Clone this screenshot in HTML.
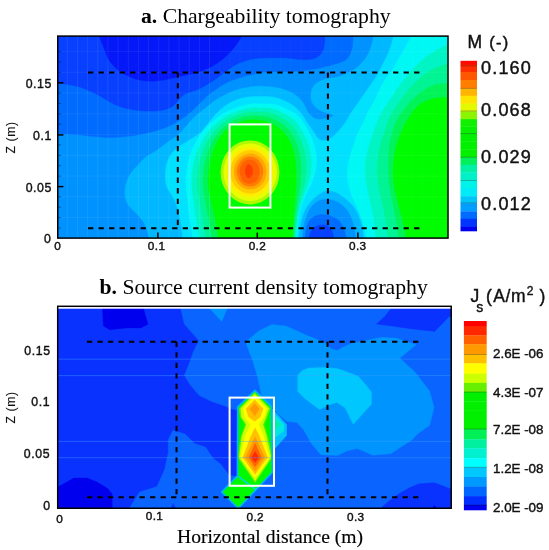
<!DOCTYPE html>
<html><head><meta charset="utf-8"><title>Chargeability and source current density tomography</title>
<style>html,body{margin:0;padding:0;background:#fff;width:549px;height:550px;overflow:hidden}svg{display:block}</style>
</head><body>
<svg width="549" height="550" viewBox="0 0 549 550">
<rect width="549" height="550" fill="#fff"/>
<!-- titles -->
<text x="141" y="23" font-family="'Liberation Serif', serif" font-size="21.7"><tspan font-weight="bold">a.</tspan> Chargeability tomography</text>
<text x="99.5" y="293.6" font-family="'Liberation Serif', serif" font-size="21.7"><tspan font-weight="bold">b.</tspan> Source current density tomography</text>
<text x="177" y="542.8" font-family="'Liberation Serif', serif" font-size="19.6" stroke="#000" stroke-width="0.15">Horizontal distance (m)</text>

<!-- panel a -->
<g id="pa">
<clipPath id="clipa"><rect x="57.75" y="36.1" width="390.25" height="202.0"/></clipPath>
<g clip-path="url(#clipa)">
<rect x="40" y="20" width="428" height="236" fill="#00b8ff"/>
<path d="M373.5 28.0 L373.5 29.3 L373.5 30.6 L373.5 31.9 L373.5 33.2 L373.4 34.6 L373.3 36.0 L373.0 37.8 L372.6 39.6 L372.2 41.5 L371.7 43.3 L371.1 45.2 L370.5 47.0 L369.9 48.7 L369.2 50.4 L368.5 52.1 L367.8 53.8 L366.9 55.4 L366.0 57.0 L364.9 58.6 L363.7 60.2 L362.3 61.7 L360.9 63.2 L359.5 64.7 L358.0 66.0 L356.5 67.3 L354.9 68.4 L353.2 69.6 L351.5 70.6 L349.8 71.6 L348.0 72.5 L346.2 73.3 L344.4 74.1 L342.6 74.8 L340.7 75.4 L338.9 76.0 L337.0 76.5 L335.2 76.9 L333.3 77.2 L331.4 77.5 L329.6 77.7 L327.8 78.1 L326.0 78.5 L324.4 79.0 L322.8 79.6 L321.2 80.2 L319.7 80.9 L318.3 81.7 L317.0 82.5 L316.0 83.3 L315.0 84.1 L314.1 85.0 L313.3 86.0 L312.6 87.0 L312.0 88.0 L311.5 89.1 L311.2 90.2 L310.9 91.4 L310.7 92.6 L310.6 93.8 L310.5 95.0 L310.5 96.2 L310.5 97.4 L310.6 98.6 L310.8 99.7 L311.1 100.9 L311.5 102.0 L312.1 103.2 L312.8 104.3 L313.6 105.5 L314.5 106.6 L315.5 107.6 L316.5 108.5 L317.6 109.3 L318.8 110.1 L320.0 110.7 L321.3 111.3 L322.7 111.9 L324.0 112.5 L325.6 113.1 L327.6 113.6 L329.6 114.1 L331.3 114.5 L332.5 115.0 L333.0 115.5 L332.5 116.0 L331.3 116.6 L329.6 117.2 L327.6 117.7 L325.7 118.2 L324.0 118.5 L322.6 118.7 L321.3 118.9 L319.9 119.0 L318.6 119.0 L317.3 118.8 L316.0 118.5 L314.7 118.0 L313.5 117.2 L312.3 116.3 L311.1 115.3 L310.0 114.2 L309.0 113.0 L307.9 111.4 L306.9 109.6 L306.0 107.6 L305.1 105.6 L304.1 103.7 L303.0 102.0 L301.9 100.7 L300.8 99.4 L299.7 98.2 L298.5 97.1 L297.3 96.0 L296.0 95.0 L294.8 94.1 L293.5 93.3 L292.2 92.5 L290.9 91.8 L289.5 91.1 L288.0 90.5 L286.1 89.8 L284.0 89.1 L281.9 88.5 L279.7 87.9 L277.4 87.4 L275.0 87.0 L271.9 86.6 L268.7 86.2 L265.3 86.0 L261.8 85.8 L258.4 85.8 L255.0 86.0 L251.6 86.3 L248.0 86.9 L244.5 87.5 L241.1 88.3 L237.9 89.1 L235.0 90.0 L233.1 90.7 L231.4 91.4 L229.7 92.1 L228.2 92.9 L226.6 93.7 L225.0 94.5 L223.3 95.3 L221.6 96.2 L220.0 97.1 L218.3 98.0 L216.6 99.0 L215.0 100.0 L213.3 101.2 L211.6 102.5 L210.0 103.9 L208.3 105.3 L206.7 106.6 L205.0 108.0 L203.3 109.3 L201.6 110.6 L200.0 111.9 L198.3 113.2 L196.6 114.5 L195.0 116.0 L193.3 117.7 L191.5 119.6 L189.8 121.5 L188.2 123.4 L186.6 125.3 L185.0 127.0 L183.8 128.3 L182.7 129.6 L181.6 130.9 L180.4 132.1 L179.3 133.3 L178.0 134.5 L176.5 135.7 L174.9 136.9 L173.2 138.0 L171.5 139.1 L169.7 140.3 L168.0 141.5 L166.0 143.0 L164.0 144.5 L162.0 146.1 L160.0 147.6 L158.0 149.1 L156.0 150.5 L154.3 151.6 L152.5 152.6 L150.8 153.5 L149.1 154.4 L147.5 155.4 L146.0 156.5 L144.7 157.6 L143.5 158.7 L142.4 159.9 L141.2 161.1 L140.1 162.3 L139.0 163.5 L137.8 164.7 L136.6 165.9 L135.4 167.2 L134.2 168.4 L133.0 169.7 L132.0 171.0 L131.1 172.2 L130.3 173.4 L129.5 174.6 L128.8 175.9 L128.1 177.2 L127.5 178.6 L126.8 180.3 L126.2 182.2 L125.6 184.2 L125.1 186.1 L124.7 188.1 L124.5 190.0 L124.4 191.7 L124.4 193.5 L124.6 195.2 L124.8 196.9 L125.1 198.5 L125.5 200.0 L125.9 201.2 L126.4 202.3 L126.9 203.4 L127.5 204.4 L128.2 205.4 L129.0 206.5 L130.1 207.8 L131.4 209.2 L132.8 210.5 L134.3 211.8 L135.7 213.2 L137.0 214.5 L138.1 215.7 L139.2 217.0 L140.2 218.2 L141.2 219.4 L142.2 220.7 L143.0 222.0 L143.7 223.3 L144.4 224.6 L145.0 225.9 L145.5 227.3 L146.0 228.6 L146.5 230.0 L146.9 231.3 L147.3 232.6 L147.7 234.0 L148.0 235.3 L148.3 236.7 L148.5 238.0 L148.7 239.3 L148.8 240.7 L148.8 242.0 L148.9 243.3 L148.9 244.7 L149.0 246.0 L40.0 256.0 L40.0 20.0 L373.5 20.0Z" fill="#0092ff" stroke="#0092ff" stroke-width="0.5"/>
<path d="M302.0 246.0 L302.1 244.7 L302.1 243.4 L302.2 242.1 L302.3 240.8 L302.4 239.4 L302.5 238.0 L302.7 236.1 L302.9 234.2 L303.1 232.1 L303.3 230.1 L303.6 228.0 L304.0 226.0 L304.4 224.0 L304.9 221.9 L305.5 219.8 L306.1 217.8 L306.7 215.9 L307.5 214.0 L308.3 212.3 L309.1 210.7 L310.0 209.1 L310.9 207.6 L311.9 206.2 L313.0 205.0 L314.0 204.0 L315.1 203.1 L316.3 202.3 L317.5 201.6 L318.7 201.0 L320.0 200.5 L321.3 200.1 L322.6 199.8 L323.9 199.6 L325.3 199.5 L326.7 199.5 L328.0 199.5 L329.4 199.6 L330.7 199.9 L332.1 200.2 L333.4 200.5 L334.7 201.0 L336.0 201.5 L337.2 202.1 L338.5 202.7 L339.7 203.4 L340.8 204.2 L341.9 205.1 L343.0 206.0 L344.1 207.1 L345.2 208.2 L346.2 209.5 L347.2 210.8 L348.1 212.1 L349.0 213.5 L349.8 215.0 L350.6 216.5 L351.3 218.1 L351.9 219.8 L352.5 221.4 L353.0 223.0 L353.5 224.5 L353.9 226.1 L354.2 227.6 L354.5 229.1 L354.8 230.6 L355.0 232.0 L355.1 233.1 L355.2 234.1 L355.3 235.0 L355.4 236.0 L355.4 237.0 L355.5 238.0 L355.6 239.3 L355.7 240.6 L355.8 241.9 L355.8 243.3 L355.9 244.7 L356.0 246.0 L356.0 256.0 L302.0 256.0Z" fill="#0092ff" stroke="#0092ff" stroke-width="0.5"/>
<path d="M48.0 133.5 L49.5 133.5 L50.9 133.5 L52.3 133.5 L53.8 133.5 L55.3 133.5 L57.0 133.5 L59.6 133.6 L62.5 133.7 L65.6 133.9 L68.7 134.1 L71.9 134.3 L75.0 134.5 L78.3 134.8 L81.7 135.1 L85.0 135.5 L88.4 135.9 L91.7 136.2 L95.0 136.5 L97.9 136.7 L100.9 137.0 L103.7 137.2 L106.6 137.4 L109.3 137.5 L112.0 137.5 L114.3 137.4 L116.4 137.3 L118.6 137.2 L120.7 137.0 L122.8 136.7 L125.0 136.5 L127.4 136.2 L129.9 136.0 L132.4 135.7 L135.0 135.3 L137.5 134.9 L140.0 134.5 L142.5 134.0 L145.1 133.5 L147.6 132.9 L150.1 132.3 L152.6 131.7 L155.0 131.0 L157.2 130.3 L159.5 129.7 L161.6 128.9 L163.8 128.2 L165.9 127.4 L168.0 126.5 L170.1 125.5 L172.1 124.5 L174.2 123.5 L176.2 122.3 L178.1 121.2 L180.0 120.0 L181.8 118.8 L183.5 117.6 L185.2 116.4 L186.8 115.1 L188.4 113.8 L190.0 112.5 L191.4 111.3 L192.8 110.0 L194.1 108.8 L195.4 107.5 L196.7 106.3 L198.0 105.0 L199.3 103.7 L200.6 102.3 L201.9 101.0 L203.3 99.6 L204.6 98.3 L206.0 97.0 L207.4 95.8 L208.9 94.6 L210.4 93.4 L211.9 92.2 L213.4 91.1 L215.0 90.0 L216.6 88.9 L218.2 87.7 L219.9 86.6 L221.5 85.5 L223.2 84.5 L225.0 83.5 L226.9 82.5 L228.9 81.6 L230.9 80.8 L232.9 80.0 L234.9 79.2 L237.0 78.5 L239.1 77.8 L241.3 77.2 L243.5 76.6 L245.7 76.0 L247.8 75.5 L250.0 75.0 L252.0 74.5 L253.9 74.1 L255.7 73.6 L257.7 73.2 L259.7 72.8 L262.0 72.5 L265.9 72.1 L270.3 71.9 L275.0 71.8 L279.7 71.7 L284.1 71.6 L288.0 71.5 L290.3 71.4 L292.3 71.4 L294.3 71.3 L296.2 71.2 L298.1 71.1 L300.0 71.0 L302.0 70.8 L303.9 70.6 L305.9 70.4 L307.8 70.1 L309.7 69.8 L311.6 69.5 L313.4 69.2 L315.1 68.9 L316.9 68.6 L318.6 68.2 L320.3 67.9 L322.0 67.5 L323.7 67.1 L325.4 66.7 L327.1 66.3 L328.8 65.9 L330.4 65.4 L332.0 65.0 L333.4 64.6 L334.8 64.2 L336.1 63.8 L337.4 63.4 L338.7 63.0 L340.0 62.5 L341.2 62.0 L342.4 61.5 L343.5 61.0 L344.6 60.4 L345.7 59.8 L346.6 59.0 L347.4 58.2 L348.2 57.2 L348.8 56.2 L349.4 55.2 L350.0 54.1 L350.5 53.0 L350.9 51.9 L351.3 50.8 L351.7 49.6 L351.9 48.5 L352.2 47.3 L352.4 46.0 L352.6 44.4 L352.7 42.8 L352.8 41.1 L352.9 39.3 L352.9 37.6 L353.0 36.0 L353.1 34.6 L353.1 33.3 L353.1 31.9 L353.1 30.6 L353.2 29.3 L353.2 28.0 L353.2 20.0 L40.0 20.0Z" fill="#006cff" stroke="#006cff" stroke-width="0.5"/>
<path d="M304.0 246.0 L304.2 244.7 L304.3 243.4 L304.5 242.1 L304.6 240.8 L304.8 239.4 L305.0 238.0 L305.2 236.1 L305.5 234.0 L305.7 231.9 L306.1 229.8 L306.5 227.8 L307.0 226.0 L307.5 224.7 L308.1 223.4 L308.7 222.1 L309.4 221.0 L310.2 219.9 L311.0 219.0 L311.9 218.2 L312.8 217.5 L313.8 216.9 L314.8 216.3 L315.9 215.9 L317.0 215.5 L318.4 215.2 L319.9 214.9 L321.4 214.8 L323.0 214.8 L324.5 214.9 L326.0 215.0 L327.4 215.2 L328.8 215.5 L330.1 215.9 L331.5 216.4 L332.8 216.9 L334.0 217.5 L335.1 218.1 L336.2 218.8 L337.2 219.5 L338.2 220.3 L339.1 221.1 L340.0 222.0 L340.8 223.0 L341.6 224.1 L342.3 225.3 L342.9 226.5 L343.5 227.7 L344.0 229.0 L344.5 230.4 L344.9 231.9 L345.2 233.4 L345.5 235.0 L345.8 236.5 L346.0 238.0 L346.2 239.4 L346.3 240.7 L346.3 242.0 L346.4 243.3 L346.4 244.7 L346.5 246.0 L346.5 256.0 L304.0 256.0Z" fill="#006cff" stroke="#006cff" stroke-width="0.5"/>
<path d="M48.0 83.0 L49.5 83.0 L51.0 83.0 L52.4 82.9 L53.9 82.9 L55.5 82.9 L57.0 83.0 L58.8 83.2 L60.6 83.4 L62.5 83.6 L64.3 83.9 L66.2 84.2 L68.0 84.5 L69.7 84.8 L71.3 85.1 L73.0 85.3 L74.6 85.7 L76.3 86.1 L78.0 86.5 L80.0 87.1 L82.0 87.8 L84.0 88.5 L86.1 89.3 L88.1 90.2 L90.0 91.0 L91.7 91.8 L93.4 92.6 L95.1 93.4 L96.7 94.2 L98.4 95.1 L100.0 96.0 L101.7 97.0 L103.3 98.0 L105.0 99.0 L106.7 100.1 L108.3 101.1 L110.0 102.0 L111.6 102.8 L113.2 103.6 L114.8 104.4 L116.5 105.2 L118.2 105.8 L120.0 106.5 L122.3 107.2 L124.7 107.9 L127.3 108.5 L129.9 109.1 L132.4 109.6 L135.0 110.0 L137.5 110.3 L140.1 110.6 L142.7 110.8 L145.2 110.9 L147.7 111.0 L150.0 111.0 L151.8 111.0 L153.5 111.0 L155.2 110.9 L156.8 110.8 L158.4 110.7 L160.0 110.5 L161.4 110.3 L162.8 110.0 L164.2 109.7 L165.5 109.4 L166.8 109.0 L168.0 108.5 L169.1 108.0 L170.1 107.5 L171.2 107.0 L172.1 106.4 L173.1 105.7 L174.0 105.0 L174.9 104.2 L175.8 103.3 L176.6 102.3 L177.4 101.4 L178.2 100.4 L179.0 99.5 L179.8 98.6 L180.6 97.7 L181.4 96.8 L182.2 96.0 L183.0 95.2 L184.0 94.5 L185.2 93.8 L186.5 93.3 L187.8 92.8 L189.2 92.4 L190.6 92.0 L192.0 91.5 L193.3 91.0 L194.7 90.5 L196.0 90.1 L197.4 89.6 L198.7 89.1 L200.0 88.5 L201.3 87.8 L202.7 87.1 L204.0 86.4 L205.3 85.6 L206.7 84.8 L208.0 84.0 L209.5 83.1 L211.0 82.1 L212.5 81.1 L214.0 80.1 L215.5 79.1 L217.0 78.0 L218.6 76.8 L220.3 75.5 L222.0 74.3 L223.6 73.0 L225.3 71.7 L227.0 70.5 L228.6 69.3 L230.2 68.2 L231.9 67.1 L233.5 66.0 L235.2 64.9 L237.0 64.0 L239.0 63.1 L241.2 62.2 L243.4 61.4 L245.6 60.7 L247.8 60.0 L250.0 59.5 L252.0 59.1 L253.8 58.8 L255.7 58.5 L257.7 58.3 L259.7 58.1 L262.0 58.0 L265.9 57.8 L270.3 57.7 L275.0 57.7 L279.7 57.7 L284.1 57.8 L288.0 58.0 L290.3 58.2 L292.3 58.4 L294.3 58.7 L296.2 58.9 L298.1 59.2 L300.0 59.3 L302.0 59.4 L304.0 59.4 L306.0 59.5 L308.0 59.4 L309.9 59.3 L311.6 59.0 L312.8 58.7 L314.0 58.4 L315.1 58.1 L316.1 57.6 L317.1 57.1 L318.0 56.5 L318.9 55.8 L319.8 54.9 L320.5 54.0 L321.3 53.1 L321.9 52.0 L322.5 51.0 L323.0 49.9 L323.4 48.8 L323.7 47.6 L323.9 46.4 L324.1 45.2 L324.3 44.0 L324.5 42.7 L324.6 41.4 L324.7 40.0 L324.7 38.7 L324.8 37.3 L324.8 36.0 L324.9 34.7 L324.9 33.3 L324.9 32.0 L324.9 30.7 L325.0 29.3 L325.0 28.0 L325.0 20.0 L40.0 20.0Z" fill="#0840ff" stroke="#0840ff" stroke-width="0.5"/>
<path d="M308.0 246.0 L308.1 244.7 L308.3 243.3 L308.4 242.0 L308.5 240.6 L308.7 239.3 L309.0 238.0 L309.3 236.6 L309.7 235.2 L310.2 233.8 L310.7 232.4 L311.3 231.1 L312.0 230.0 L312.7 229.1 L313.5 228.4 L314.3 227.6 L315.2 227.0 L316.1 226.5 L317.0 226.0 L317.9 225.6 L318.9 225.4 L320.0 225.2 L321.0 225.0 L322.0 225.0 L323.0 225.0 L324.0 225.1 L324.9 225.2 L325.9 225.4 L326.8 225.7 L327.7 226.0 L328.5 226.5 L329.2 227.1 L329.9 227.7 L330.5 228.5 L331.1 229.3 L331.6 230.1 L332.0 231.0 L332.4 232.0 L332.7 233.2 L333.0 234.3 L333.2 235.5 L333.3 236.8 L333.5 238.0 L333.6 239.3 L333.7 240.6 L333.8 242.0 L333.9 243.3 L333.9 244.7 L334.0 246.0 L334.0 256.0 L308.0 256.0Z" fill="#0840ff" stroke="#0840ff" stroke-width="0.5"/>
<path d="M99.7 28.0 L99.7 29.3 L99.6 30.6 L99.5 31.9 L99.5 33.2 L99.5 34.6 L99.7 36.0 L100.1 37.9 L100.8 39.8 L101.5 41.9 L102.3 43.9 L103.2 46.0 L104.0 48.0 L104.8 50.0 L105.5 52.1 L106.2 54.2 L107.1 56.2 L108.0 58.2 L109.0 60.0 L110.1 61.7 L111.4 63.3 L112.7 64.8 L114.1 66.3 L115.5 67.7 L117.0 69.0 L118.5 70.3 L120.1 71.4 L121.8 72.6 L123.5 73.6 L125.2 74.6 L127.0 75.5 L128.8 76.3 L130.6 77.1 L132.4 77.8 L134.2 78.4 L136.1 79.0 L138.0 79.5 L139.9 79.9 L141.9 80.3 L143.9 80.6 L145.9 80.8 L148.0 80.9 L150.0 81.0 L152.1 81.0 L154.3 80.9 L156.4 80.8 L158.6 80.6 L160.8 80.3 L163.0 80.0 L165.3 79.6 L167.6 79.2 L169.9 78.6 L172.3 78.1 L174.6 77.5 L177.0 77.0 L179.5 76.4 L182.0 75.9 L184.5 75.3 L187.1 74.7 L189.6 74.1 L192.0 73.5 L194.3 72.9 L196.5 72.3 L198.7 71.6 L200.9 71.0 L203.0 70.3 L205.0 69.5 L206.6 68.8 L208.1 68.1 L209.6 67.4 L211.1 66.7 L212.5 65.9 L214.0 65.0 L215.7 64.0 L217.4 62.9 L219.1 61.7 L220.8 60.5 L222.4 59.3 L224.0 58.0 L225.4 56.7 L226.8 55.4 L228.2 54.1 L229.5 52.8 L230.8 51.4 L232.0 50.0 L233.1 48.7 L234.2 47.3 L235.2 46.0 L236.2 44.6 L237.1 43.3 L238.0 42.0 L238.7 41.0 L239.4 40.0 L240.0 39.0 L240.6 38.1 L241.1 37.1 L241.5 36.0 L241.8 34.8 L242.0 33.5 L242.2 32.1 L242.3 30.7 L242.4 29.4 L242.5 28.0 L244.0 20.0 L99.7 20.0Z" fill="#0418f8" stroke="#0418f8" stroke-width="0.5"/>
<path d="M183.0 246.0 L183.0 244.7 L182.9 243.4 L182.9 242.1 L182.9 240.8 L182.8 239.4 L182.7 238.0 L182.5 236.1 L182.3 234.2 L182.1 232.1 L181.8 230.0 L181.5 228.0 L181.2 226.0 L180.9 224.1 L180.6 222.2 L180.4 220.3 L180.1 218.5 L179.7 216.7 L179.4 215.0 L179.1 213.7 L178.8 212.6 L178.5 211.4 L178.2 210.3 L177.9 209.2 L177.5 208.0 L177.1 206.7 L176.6 205.3 L176.1 204.0 L175.6 202.6 L175.1 201.3 L174.5 200.0 L173.9 198.8 L173.2 197.6 L172.6 196.5 L171.9 195.3 L171.2 194.2 L170.5 193.0 L169.8 191.9 L169.1 190.7 L168.3 189.6 L167.6 188.5 L167.0 187.3 L166.5 186.0 L166.1 184.3 L165.8 182.5 L165.6 180.7 L165.5 178.7 L165.5 176.8 L165.5 175.0 L165.5 173.3 L165.6 171.6 L165.7 169.9 L165.9 168.3 L166.2 166.6 L166.5 165.0 L166.9 163.4 L167.4 161.9 L167.9 160.4 L168.5 158.9 L169.2 157.4 L170.0 156.0 L171.0 154.5 L172.0 153.1 L173.2 151.7 L174.5 150.4 L175.7 149.1 L177.0 148.0 L178.1 147.1 L179.3 146.3 L180.4 145.6 L181.6 144.9 L182.8 144.2 L184.0 143.5 L185.3 142.7 L186.6 141.9 L188.0 141.0 L189.3 140.2 L190.7 139.4 L192.0 138.5 L193.4 137.6 L194.7 136.8 L196.1 135.9 L197.4 135.0 L198.7 134.0 L200.0 133.0 L201.2 131.8 L202.4 130.5 L203.6 129.2 L204.7 127.8 L205.8 126.4 L207.0 125.0 L208.3 123.4 L209.6 121.7 L210.9 120.0 L212.2 118.3 L213.6 116.6 L215.0 115.0 L216.6 113.4 L218.2 111.8 L219.8 110.2 L221.5 108.7 L223.3 107.3 L225.0 106.0 L226.6 104.9 L228.3 103.9 L229.9 102.9 L231.6 102.1 L233.3 101.2 L235.0 100.5 L236.6 99.8 L238.3 99.3 L240.0 98.7 L241.6 98.3 L243.3 97.9 L245.0 97.5 L246.7 97.2 L248.3 97.0 L250.0 96.8 L251.7 96.7 L253.3 96.6 L255.0 96.5 L256.7 96.4 L258.3 96.4 L260.0 96.4 L261.7 96.4 L263.3 96.4 L265.0 96.5 L266.7 96.6 L268.3 96.7 L270.0 96.8 L271.7 96.9 L273.3 97.2 L275.0 97.5 L276.8 98.0 L278.7 98.5 L280.6 99.2 L282.4 99.9 L284.3 100.7 L286.0 101.5 L287.6 102.3 L289.2 103.1 L290.7 104.0 L292.2 104.9 L293.6 105.9 L295.0 107.0 L296.5 108.3 L297.9 109.8 L299.3 111.3 L300.6 112.9 L301.8 114.5 L303.0 116.0 L303.9 117.3 L304.8 118.7 L305.6 120.0 L306.4 121.4 L307.2 122.7 L308.0 124.0 L308.8 125.2 L309.7 126.4 L310.5 127.5 L311.3 128.7 L312.2 129.8 L313.0 131.0 L313.8 132.2 L314.6 133.5 L315.4 134.8 L316.2 136.0 L317.0 137.1 L317.9 138.0 L318.6 138.6 L319.2 139.1 L319.9 139.6 L320.6 140.0 L321.3 140.3 L322.0 140.5 L322.8 140.6 L323.6 140.6 L324.5 140.6 L325.3 140.4 L326.2 140.2 L327.0 140.0 L327.9 139.7 L328.9 139.3 L329.8 138.8 L330.8 138.2 L331.7 137.6 L332.6 137.0 L333.5 136.2 L334.4 135.4 L335.3 134.5 L336.2 133.5 L337.1 132.5 L338.0 131.5 L339.1 130.2 L340.3 128.9 L341.5 127.5 L342.7 126.0 L343.9 124.5 L345.0 123.0 L346.1 121.4 L347.1 119.8 L348.0 118.1 L349.0 116.4 L350.0 114.7 L351.0 113.0 L352.1 111.3 L353.2 109.7 L354.4 108.1 L355.6 106.4 L356.8 104.7 L358.0 103.0 L359.4 100.9 L360.9 98.8 L362.4 96.6 L364.0 94.4 L365.5 92.2 L367.0 90.0 L368.5 87.8 L370.1 85.7 L371.6 83.6 L373.1 81.4 L374.6 79.2 L376.0 77.0 L377.4 74.7 L378.7 72.4 L379.9 70.0 L381.1 67.7 L382.3 65.3 L383.5 63.0 L384.6 60.8 L385.7 58.7 L386.7 56.5 L387.7 54.4 L388.6 52.2 L389.5 50.0 L390.3 47.7 L391.1 45.3 L391.9 42.8 L392.5 40.4 L393.1 38.1 L393.5 36.0 L393.7 34.5 L393.8 33.2 L393.9 31.9 L393.9 30.6 L393.9 29.3 L394.0 28.0 L394.0 20.0 L468.0 20.0 L468.0 256.0 L364.5 256.0 L364.5 246.0 L364.4 244.7 L364.4 243.4 L364.3 242.1 L364.2 240.8 L364.1 239.4 L364.0 238.0 L363.8 236.3 L363.6 234.5 L363.4 232.6 L363.2 230.7 L362.9 228.8 L362.5 227.0 L362.1 225.1 L361.5 223.3 L361.0 221.4 L360.4 219.5 L359.7 217.7 L359.0 216.0 L358.3 214.4 L357.5 212.8 L356.7 211.3 L355.9 209.8 L355.0 208.4 L354.0 207.0 L353.0 205.7 L351.8 204.5 L350.7 203.3 L349.4 202.2 L348.2 201.1 L347.0 200.0 L345.9 199.0 L344.7 198.0 L343.5 197.0 L342.3 196.1 L341.2 195.3 L340.0 194.5 L339.0 193.9 L338.0 193.3 L337.0 192.8 L336.0 192.3 L335.0 191.9 L334.0 191.5 L333.0 191.2 L332.0 190.9 L331.0 190.7 L330.0 190.6 L329.0 190.5 L328.0 190.5 L327.1 190.6 L326.3 190.8 L325.5 191.0 L324.7 191.3 L323.9 191.6 L323.0 192.0 L321.9 192.6 L320.7 193.2 L319.5 194.0 L318.3 194.8 L317.1 195.6 L316.0 196.5 L314.9 197.5 L313.7 198.5 L312.6 199.5 L311.5 200.6 L310.5 201.8 L309.5 203.0 L308.5 204.4 L307.5 205.8 L306.5 207.2 L305.6 208.8 L304.8 210.4 L304.0 212.0 L303.2 213.9 L302.6 215.8 L302.0 217.8 L301.5 219.8 L301.0 221.9 L300.5 224.0 L300.1 226.3 L299.7 228.7 L299.3 231.2 L299.0 233.6 L298.8 235.9 L298.5 238.0 L298.3 239.5 L298.1 240.8 L298.0 242.1 L297.8 243.4 L297.7 244.7 L297.5 246.0 L297.5 256.0 L179.5 256.0Z" fill="#00e0ff" stroke="#00e0ff" stroke-width="0.5"/>
<path d="M193.0 246.0 L193.0 244.7 L192.9 243.4 L192.9 242.1 L192.9 240.8 L192.8 239.4 L192.7 238.0 L192.5 236.1 L192.2 234.2 L191.9 232.1 L191.6 230.0 L191.3 228.0 L191.0 226.0 L190.7 224.1 L190.4 222.3 L190.1 220.4 L189.8 218.6 L189.6 216.8 L189.3 215.0 L189.1 213.3 L188.8 211.6 L188.6 210.0 L188.4 208.3 L188.2 206.7 L188.0 205.0 L187.8 203.3 L187.6 201.6 L187.5 200.0 L187.3 198.3 L187.2 196.6 L187.0 195.0 L186.8 193.5 L186.6 192.0 L186.4 190.6 L186.2 189.1 L186.1 187.6 L186.0 186.0 L186.0 184.0 L186.0 181.8 L186.0 179.6 L186.1 177.4 L186.3 175.2 L186.5 173.0 L186.7 171.0 L187.0 168.9 L187.3 166.9 L187.7 164.9 L188.1 163.0 L188.5 161.0 L189.0 159.1 L189.5 157.3 L190.1 155.4 L190.7 153.6 L191.3 151.8 L192.0 150.0 L192.7 148.3 L193.5 146.6 L194.3 144.9 L195.2 143.2 L196.1 141.6 L197.0 140.0 L197.9 138.5 L198.9 137.1 L199.9 135.6 L200.9 134.2 L201.9 132.9 L203.0 131.5 L204.1 130.1 L205.2 128.7 L206.3 127.4 L207.5 126.1 L208.7 124.8 L210.0 123.5 L211.4 122.2 L212.8 121.0 L214.3 119.9 L215.9 118.7 L217.4 117.6 L219.0 116.5 L220.6 115.4 L222.2 114.3 L223.9 113.3 L225.6 112.3 L227.3 111.4 L229.0 110.5 L230.8 109.7 L232.6 109.0 L234.4 108.3 L236.3 107.7 L238.1 107.1 L240.0 106.5 L241.8 106.0 L243.6 105.5 L245.4 105.0 L247.3 104.6 L249.1 104.3 L251.0 104.0 L253.0 103.8 L255.0 103.8 L257.0 103.8 L259.0 103.9 L261.0 103.9 L263.0 104.0 L265.0 104.0 L267.0 104.0 L269.1 104.0 L271.1 104.0 L273.1 104.2 L275.0 104.5 L276.9 105.0 L278.8 105.7 L280.7 106.5 L282.5 107.3 L284.3 108.2 L286.0 109.0 L287.4 109.6 L288.8 110.3 L290.2 110.9 L291.5 111.6 L292.8 112.3 L294.0 113.0 L295.1 113.7 L296.1 114.5 L297.1 115.3 L298.1 116.1 L299.1 117.0 L300.0 118.0 L301.2 119.4 L302.3 121.0 L303.4 122.7 L304.5 124.5 L305.5 126.3 L306.5 128.0 L307.3 129.5 L308.2 131.0 L308.9 132.5 L309.6 134.0 L310.3 135.5 L311.0 137.0 L311.6 138.3 L312.1 139.6 L312.6 140.9 L313.1 142.2 L313.6 143.6 L314.0 145.0 L314.5 146.7 L315.0 148.5 L315.4 150.3 L315.8 152.2 L316.1 154.1 L316.3 156.0 L316.4 158.1 L316.5 160.3 L316.4 162.4 L316.3 164.6 L316.1 166.8 L315.8 169.0 L315.4 171.2 L314.8 173.4 L314.2 175.6 L313.5 177.8 L312.8 179.9 L312.0 182.0 L311.2 184.0 L310.3 186.0 L309.3 187.9 L308.3 189.8 L307.4 191.7 L306.5 193.5 L305.8 195.1 L305.0 196.7 L304.4 198.3 L303.7 199.9 L303.1 201.4 L302.5 203.0 L302.0 204.5 L301.5 205.9 L301.1 207.4 L300.7 208.9 L300.4 210.4 L300.0 212.0 L299.6 214.0 L299.2 216.1 L298.9 218.3 L298.6 220.6 L298.3 222.8 L298.0 225.0 L297.7 227.2 L297.4 229.4 L297.2 231.7 L296.9 233.9 L296.7 236.0 L296.5 238.0 L296.4 239.4 L296.3 240.8 L296.2 242.1 L296.1 243.4 L296.1 244.7 L296.0 246.0 L296.0 256.0 L193.0 256.0Z" fill="#00f8f4" stroke="#00f8f4" stroke-width="0.5"/>
<path d="M412.0 28.0 L411.9 29.3 L411.8 30.6 L411.7 31.9 L411.6 33.2 L411.4 34.6 L411.0 36.0 L410.3 37.9 L409.4 39.9 L408.4 41.9 L407.3 43.9 L406.1 46.0 L405.0 48.0 L403.9 50.0 L402.7 52.0 L401.6 54.0 L400.4 56.0 L399.2 58.0 L398.0 60.0 L396.8 62.0 L395.7 64.1 L394.5 66.2 L393.4 68.2 L392.2 70.2 L391.0 72.0 L390.0 73.4 L388.9 74.8 L387.9 76.0 L386.8 77.3 L385.8 78.6 L384.8 80.0 L383.8 81.7 L382.8 83.5 L381.8 85.4 L380.8 87.3 L379.9 89.1 L379.0 91.0 L378.1 92.8 L377.3 94.6 L376.5 96.3 L375.7 98.1 L374.9 99.9 L374.0 101.6 L373.0 103.3 L372.0 105.1 L371.0 106.8 L370.0 108.5 L369.0 110.2 L368.0 112.0 L367.1 113.9 L366.2 115.8 L365.4 117.7 L364.6 119.7 L363.8 121.6 L362.9 123.5 L362.0 125.3 L361.1 127.0 L360.1 128.8 L359.2 130.5 L358.3 132.2 L357.5 134.0 L356.8 135.7 L356.2 137.4 L355.7 139.2 L355.1 140.9 L354.6 142.7 L354.0 144.5 L353.3 146.5 L352.6 148.5 L351.9 150.6 L351.2 152.7 L350.6 154.8 L350.0 157.0 L349.4 159.4 L348.8 161.9 L348.3 164.4 L347.8 166.9 L347.5 169.4 L347.3 171.8 L347.3 173.9 L347.4 176.0 L347.5 178.0 L347.8 180.0 L348.1 182.0 L348.5 184.0 L348.9 186.0 L349.4 188.1 L350.0 190.1 L350.6 192.1 L351.3 194.1 L352.0 196.0 L352.7 197.9 L353.6 199.7 L354.4 201.5 L355.3 203.4 L356.2 205.2 L357.0 207.0 L357.8 208.8 L358.6 210.7 L359.4 212.5 L360.1 214.4 L360.8 216.2 L361.5 218.0 L362.1 219.7 L362.6 221.4 L363.1 223.0 L363.6 224.7 L364.1 226.3 L364.5 228.0 L364.9 229.7 L365.3 231.4 L365.7 233.1 L366.0 234.7 L366.3 236.4 L366.5 238.0 L366.7 239.4 L366.8 240.7 L366.8 242.1 L366.9 243.4 L366.9 244.7 L367.0 246.0 L367.0 256.0 L468.0 256.0 L468.0 20.0 L412.0 20.0Z" fill="#00f8f4" stroke="#00f8f4" stroke-width="0.5"/>
<path d="M199.5 246.0 L199.4 241.6 L199.1 237.2 L198.5 232.8 L197.8 228.5 L197.1 224.2 L196.4 219.8 L195.7 215.5 L195.0 211.1 L194.4 206.8 L193.8 202.4 L193.3 198.0 L192.7 193.7 L192.1 189.3 L191.9 184.9 L191.9 180.5 L192.0 176.2 L192.4 171.8 L193.0 167.4 L193.8 163.1 L194.9 158.9 L196.2 154.7 L197.7 150.6 L199.5 146.6 L201.5 142.7 L203.7 138.9 L206.1 135.3 L208.7 131.7 L211.5 128.4 L214.5 125.3 L217.8 122.4 L221.3 119.7 L224.9 117.2 L228.7 115.0 L232.7 113.1 L236.8 111.5 L241.0 110.2 L245.2 109.0 L249.5 108.2 L253.9 107.8 L258.3 107.9 L262.7 108.0 L267.1 108.1 L271.5 108.6 L275.7 109.7 L279.8 111.4 L283.7 113.4 L287.6 115.4 L291.3 117.7 L294.7 120.5 L297.6 123.8 L300.0 127.4 L302.2 131.3 L304.2 135.2 L306.0 139.2 L307.6 143.3 L309.0 147.5 L310.0 151.7 L310.8 156.0 L311.3 160.4 L311.4 164.8 L311.1 169.2 L310.6 173.6 L309.7 177.9 L308.5 182.1 L307.2 186.2 L305.6 190.3 L304.0 194.3 L302.5 198.4 L301.1 202.5 L299.9 206.8 L298.9 211.0 L298.1 215.3 L297.5 219.7 L296.9 224.1 L296.4 228.4 L296.0 232.8 L295.6 237.2 L295.3 241.6 L295.1 246.0 L295.1 256.0 L199.5 256.0Z" fill="#00f4c4" stroke="#00f4c4" stroke-width="0.5"/>
<path d="M468.0 41.0 L464.6 41.6 L461.2 42.2 L457.8 42.7 L454.4 43.3 L451.2 44.1 L448.0 45.0 L445.2 46.1 L442.4 47.2 L439.7 48.6 L437.1 50.0 L434.5 51.4 L432.0 53.0 L429.5 54.6 L427.1 56.3 L424.8 58.1 L422.5 60.0 L420.2 61.9 L418.0 64.0 L415.6 66.4 L413.2 69.0 L410.8 71.7 L408.5 74.4 L406.2 77.2 L404.0 80.0 L401.9 82.8 L399.8 85.6 L397.8 88.4 L395.9 91.3 L393.9 94.1 L392.0 97.0 L390.1 99.8 L388.1 102.6 L386.2 105.4 L384.4 108.3 L382.6 111.1 L381.0 114.0 L379.6 116.8 L378.4 119.6 L377.2 122.5 L376.1 125.4 L375.0 128.2 L374.0 131.0 L373.1 133.5 L372.2 136.1 L371.3 138.6 L370.5 141.0 L369.7 143.5 L369.0 146.0 L368.4 148.4 L367.8 150.7 L367.2 153.0 L366.7 155.4 L366.3 157.7 L366.0 160.0 L365.8 162.2 L365.6 164.3 L365.5 166.4 L365.4 168.6 L365.4 170.8 L365.5 173.0 L365.7 175.6 L365.9 178.2 L366.2 180.9 L366.6 183.6 L367.1 186.3 L367.5 189.0 L368.0 191.7 L368.6 194.4 L369.2 197.0 L369.8 199.7 L370.4 202.4 L371.0 205.0 L371.5 207.5 L372.1 210.0 L372.6 212.4 L373.1 214.9 L373.6 217.4 L374.0 220.0 L374.4 223.0 L374.8 226.1 L375.2 229.3 L375.5 232.5 L375.8 235.4 L376.0 238.0 L376.1 239.5 L376.2 240.9 L376.3 242.2 L376.4 243.5 L376.4 244.7 L376.5 246.0 L376.5 256.0 L468.0 256.0 L468.0 41.0Z" fill="#00f4c4" stroke="#00f4c4" stroke-width="0.5"/>
<path d="M206.0 246.0 L205.9 241.8 L205.7 237.6 L205.1 233.4 L204.4 229.3 L203.6 225.1 L202.9 221.0 L202.2 216.9 L201.5 212.7 L200.8 208.6 L200.2 204.4 L199.5 200.3 L198.8 196.1 L198.2 192.0 L197.8 187.8 L197.6 183.6 L197.5 179.4 L197.7 175.2 L198.1 171.1 L198.8 166.9 L199.6 162.8 L200.6 158.8 L201.8 154.8 L203.2 150.9 L204.9 147.0 L206.7 143.3 L208.8 139.7 L211.0 136.2 L213.4 132.8 L216.1 129.6 L219.0 126.7 L222.2 123.9 L225.5 121.4 L229.0 119.1 L232.8 117.2 L236.6 115.6 L240.6 114.2 L244.7 113.1 L248.8 112.2 L253.0 111.9 L257.2 111.9 L261.4 112.1 L265.6 112.3 L269.7 112.9 L273.7 114.1 L277.6 115.8 L281.3 117.7 L284.9 119.8 L288.4 122.2 L291.5 125.0 L294.2 128.2 L296.4 131.7 L298.4 135.4 L300.2 139.2 L301.8 143.1 L303.1 147.1 L304.3 151.1 L305.1 155.2 L305.8 159.4 L306.2 163.6 L306.3 167.8 L306.1 172.0 L305.7 176.1 L305.1 180.3 L304.3 184.4 L303.3 188.4 L302.1 192.4 L301.0 196.3 L299.9 200.3 L298.8 204.3 L297.9 208.4 L297.2 212.5 L296.5 216.7 L296.0 220.8 L295.6 225.0 L295.2 229.2 L294.8 233.4 L294.6 237.6 L294.4 241.8 L294.2 246.0 L294.2 256.0 L206.0 256.0Z" fill="#00f494" stroke="#00f494" stroke-width="0.5"/>
<path d="M468.0 63.0 L464.6 63.1 L461.3 63.1 L457.9 63.1 L454.5 63.2 L451.2 63.5 L448.0 64.0 L444.9 64.8 L441.8 65.7 L438.7 66.8 L435.8 68.0 L432.8 69.4 L430.0 71.0 L427.1 72.8 L424.4 74.8 L421.6 76.9 L419.0 79.2 L416.5 81.6 L414.0 84.0 L411.6 86.5 L409.4 89.1 L407.2 91.7 L405.1 94.5 L403.0 97.2 L401.0 100.0 L399.0 102.8 L397.0 105.5 L395.1 108.4 L393.2 111.2 L391.5 114.1 L390.0 117.0 L388.7 119.8 L387.6 122.7 L386.7 125.6 L385.7 128.5 L384.9 131.3 L384.0 134.0 L383.3 136.1 L382.5 138.1 L381.8 140.1 L381.1 142.0 L380.5 144.0 L380.0 146.0 L379.5 148.3 L379.1 150.6 L378.8 152.9 L378.5 155.3 L378.2 157.7 L378.0 160.0 L377.8 162.2 L377.7 164.3 L377.5 166.4 L377.5 168.6 L377.4 170.7 L377.5 173.0 L377.7 175.7 L377.9 178.5 L378.2 181.4 L378.6 184.3 L379.0 187.2 L379.5 190.0 L380.0 192.7 L380.6 195.4 L381.2 198.0 L381.8 200.7 L382.4 203.3 L383.0 206.0 L383.5 208.7 L384.1 211.3 L384.6 214.0 L385.1 216.7 L385.6 219.3 L386.0 222.0 L386.4 224.7 L386.8 227.5 L387.2 230.3 L387.5 233.1 L387.8 235.6 L388.0 238.0 L388.1 239.5 L388.2 240.9 L388.3 242.2 L388.4 243.4 L388.4 244.7 L388.5 246.0 L388.5 256.0 L468.0 256.0 L468.0 63.0Z" fill="#00f494" stroke="#00f494" stroke-width="0.5"/>
<path d="M212.5 246.0 L212.4 242.0 L212.2 238.0 L211.6 234.0 L210.9 230.1 L210.2 226.1 L209.5 222.2 L208.7 218.2 L208.0 214.3 L207.2 210.4 L206.5 206.4 L205.7 202.5 L205.0 198.6 L204.3 194.6 L203.8 190.6 L203.3 186.7 L203.0 182.7 L203.0 178.7 L203.3 174.7 L203.7 170.7 L204.2 166.8 L205.0 162.9 L205.9 159.0 L207.0 155.2 L208.3 151.4 L209.7 147.7 L211.4 144.1 L213.2 140.6 L215.3 137.2 L217.6 134.0 L220.2 131.0 L223.1 128.2 L226.1 125.6 L229.4 123.3 L232.9 121.3 L236.5 119.7 L240.3 118.3 L244.1 117.1 L248.0 116.3 L252.0 115.9 L256.0 115.9 L260.0 116.1 L264.0 116.5 L267.9 117.2 L271.8 118.5 L275.4 120.1 L278.9 122.0 L282.3 124.2 L285.4 126.7 L288.2 129.5 L290.7 132.6 L292.8 136.0 L294.7 139.6 L296.3 143.3 L297.6 147.1 L298.7 150.9 L299.6 154.8 L300.3 158.7 L300.8 162.7 L301.1 166.7 L301.2 170.7 L301.1 174.7 L300.9 178.7 L300.5 182.7 L300.0 186.6 L299.4 190.5 L298.7 194.4 L297.9 198.3 L297.3 202.2 L296.6 206.1 L296.0 210.1 L295.5 214.0 L295.0 218.0 L294.6 222.0 L294.3 226.0 L294.0 230.0 L293.7 234.0 L293.5 238.0 L293.4 242.0 L293.4 246.0 L293.4 256.0 L212.5 256.0Z" fill="#00f458" stroke="#00f458" stroke-width="0.5"/>
<path d="M468.0 83.0 L464.6 83.1 L461.2 83.1 L457.8 83.1 L454.4 83.2 L451.2 83.3 L448.0 83.5 L445.4 83.7 L442.8 83.8 L440.3 84.0 L437.8 84.3 L435.4 84.8 L433.0 85.5 L430.6 86.5 L428.1 87.7 L425.8 89.1 L423.5 90.7 L421.2 92.3 L419.0 94.0 L416.7 95.9 L414.4 97.9 L412.2 100.1 L410.0 102.4 L408.0 104.7 L406.0 107.0 L404.1 109.4 L402.3 111.8 L400.5 114.3 L398.9 116.8 L397.3 119.4 L396.0 122.0 L394.9 124.6 L393.9 127.2 L393.0 129.9 L392.3 132.6 L391.6 135.3 L391.0 138.0 L390.5 140.5 L390.1 143.0 L389.7 145.5 L389.5 148.0 L389.2 150.5 L389.0 153.0 L388.8 155.4 L388.7 157.7 L388.6 160.1 L388.5 162.4 L388.5 164.7 L388.5 167.0 L388.5 169.2 L388.5 171.4 L388.6 173.5 L388.7 175.7 L388.8 177.8 L389.0 180.0 L389.2 182.3 L389.5 184.6 L389.9 186.9 L390.2 189.3 L390.6 191.6 L391.0 194.0 L391.4 196.6 L391.9 199.3 L392.4 202.0 L393.0 204.7 L393.5 207.4 L394.0 210.0 L394.5 212.4 L395.0 214.7 L395.6 217.1 L396.1 219.4 L396.6 221.7 L397.0 224.0 L397.4 226.4 L397.8 228.8 L398.2 231.2 L398.5 233.6 L398.8 235.9 L399.0 238.0 L399.1 239.5 L399.2 240.8 L399.3 242.1 L399.4 243.4 L399.4 244.7 L399.5 246.0 L399.5 256.0 L468.0 256.0 L468.0 83.0Z" fill="#00f458" stroke="#00f458" stroke-width="0.5"/>
<path d="M219.0 246.0 L219.0 244.7 L218.9 243.4 L218.9 242.1 L218.9 240.8 L218.8 239.4 L218.7 238.0 L218.5 236.1 L218.1 234.2 L217.7 232.1 L217.3 230.0 L216.9 228.0 L216.5 226.0 L216.1 224.1 L215.8 222.3 L215.4 220.4 L215.1 218.6 L214.7 216.8 L214.3 215.0 L213.9 213.3 L213.5 211.6 L213.1 210.0 L212.8 208.3 L212.4 206.7 L212.0 205.0 L211.6 203.3 L211.3 201.7 L211.0 200.0 L210.6 198.3 L210.3 196.6 L210.0 195.0 L209.7 193.5 L209.4 192.0 L209.1 190.5 L208.9 189.0 L208.7 187.5 L208.5 186.0 L208.4 184.4 L208.3 182.8 L208.3 181.1 L208.3 179.4 L208.4 177.7 L208.5 176.0 L208.6 173.9 L208.8 171.8 L209.0 169.6 L209.3 167.4 L209.6 165.2 L210.0 163.0 L210.4 160.8 L210.9 158.6 L211.5 156.4 L212.1 154.2 L212.8 152.1 L213.5 150.0 L214.3 148.0 L215.1 146.0 L215.9 144.0 L216.9 142.1 L217.9 140.3 L219.0 138.5 L220.2 136.8 L221.4 135.2 L222.7 133.7 L224.1 132.2 L225.5 130.8 L227.0 129.5 L228.5 128.3 L230.1 127.2 L231.7 126.2 L233.4 125.2 L235.2 124.3 L237.0 123.5 L239.0 122.7 L241.1 121.9 L243.3 121.3 L245.5 120.7 L247.8 120.3 L250.0 120.0 L252.3 119.8 L254.7 119.8 L257.1 119.9 L259.4 120.2 L261.7 120.5 L264.0 121.0 L266.1 121.6 L268.2 122.2 L270.3 123.0 L272.3 123.9 L274.2 124.9 L276.0 126.0 L277.7 127.1 L279.3 128.4 L280.8 129.7 L282.3 131.1 L283.7 132.5 L285.0 134.0 L286.2 135.5 L287.3 137.1 L288.3 138.8 L289.3 140.5 L290.2 142.2 L291.0 144.0 L291.8 145.9 L292.4 147.8 L293.0 149.8 L293.6 151.9 L294.1 153.9 L294.5 156.0 L294.9 158.3 L295.2 160.6 L295.5 162.9 L295.7 165.3 L295.9 167.6 L296.0 170.0 L296.1 172.3 L296.1 174.6 L296.2 177.0 L296.1 179.3 L296.1 181.6 L296.0 184.0 L295.9 186.5 L295.7 188.9 L295.6 191.4 L295.4 193.9 L295.2 196.5 L295.0 199.0 L294.8 201.6 L294.6 204.3 L294.4 207.0 L294.2 209.7 L294.0 212.4 L293.8 215.0 L293.6 217.6 L293.4 220.2 L293.2 222.8 L293.1 225.4 L292.9 227.8 L292.8 230.0 L292.7 231.5 L292.7 232.9 L292.6 234.2 L292.6 235.4 L292.5 236.7 L292.5 238.0 L292.5 239.3 L292.5 240.7 L292.5 242.0 L292.5 243.3 L292.5 244.7 L292.5 246.0 L292.5 256.0 L219.0 256.0Z" fill="#00fc00" stroke="#00fc00" stroke-width="0.5"/>
<path d="M468.0 97.0 L464.6 97.1 L461.2 97.1 L457.9 97.2 L454.5 97.2 L451.2 97.3 L448.0 97.5 L445.2 97.6 L442.5 97.7 L439.8 97.8 L437.1 98.0 L434.5 98.4 L432.0 99.0 L429.5 99.8 L427.0 100.7 L424.6 101.8 L422.3 103.0 L420.1 104.4 L418.0 106.0 L416.1 107.8 L414.3 109.8 L412.6 112.0 L411.0 114.3 L409.5 116.6 L408.0 119.0 L406.5 121.6 L405.0 124.2 L403.6 127.0 L402.3 129.8 L401.1 132.5 L400.0 135.0 L399.3 136.9 L398.6 138.8 L398.0 140.6 L397.5 142.3 L397.0 144.1 L396.5 146.0 L396.0 147.9 L395.5 149.9 L395.1 151.9 L394.7 153.9 L394.3 155.9 L394.0 158.0 L393.7 160.3 L393.5 162.6 L393.3 165.0 L393.1 167.4 L393.0 169.7 L393.0 172.0 L393.0 174.1 L393.1 176.1 L393.3 178.1 L393.5 180.0 L393.7 182.0 L394.0 184.0 L394.3 186.0 L394.7 187.9 L395.1 189.9 L395.5 191.9 L396.0 193.9 L396.5 196.0 L397.1 198.5 L397.8 201.2 L398.4 203.9 L399.1 206.7 L399.8 209.4 L400.5 212.0 L401.1 214.4 L401.7 216.8 L402.4 219.1 L402.9 221.4 L403.5 223.7 L404.0 226.0 L404.4 228.1 L404.8 230.1 L405.2 232.2 L405.5 234.2 L405.8 236.1 L406.0 238.0 L406.1 239.4 L406.2 240.8 L406.3 242.1 L406.4 243.4 L406.4 244.7 L406.5 246.0 L406.5 256.0 L468.0 256.0 L468.0 97.0Z" fill="#00fc00" stroke="#00fc00" stroke-width="0.5"/>
<ellipse cx="250.0" cy="172.4" rx="29.4" ry="32.0" fill="#b0f800"/>
<ellipse cx="250.1" cy="172.2" rx="26.6" ry="28.8" fill="#e4ff00"/>
<ellipse cx="250.1" cy="172.0" rx="23.3" ry="25.2" fill="#ffee00"/>
<ellipse cx="250.2" cy="171.8" rx="20.0" ry="21.8" fill="#ffcc00"/>
<ellipse cx="250.2" cy="171.6" rx="16.4" ry="18.0" fill="#ffa600"/>
<ellipse cx="250.0" cy="171.6" rx="13.2" ry="15.0" fill="#ff7c00"/>
<ellipse cx="249.6" cy="171.6" rx="10.2" ry="12.2" fill="#ff6000"/>
<ellipse cx="248.9" cy="171.2" rx="3.8" ry="7.0" fill="#ff3c00"/>
</g>
<g stroke="#fff" stroke-width="1">
<g stroke-opacity="0.08"><line x1="67.3" y1="36" x2="67.3" y2="238"/><line x1="77.5" y1="36" x2="77.5" y2="238"/><line x1="87.6" y1="36" x2="87.6" y2="238"/><line x1="97.8" y1="36" x2="97.8" y2="238"/><line x1="107.9" y1="36" x2="107.9" y2="238"/><line x1="118.1" y1="36" x2="118.1" y2="238"/><line x1="128.3" y1="36" x2="128.3" y2="238"/><line x1="138.4" y1="36" x2="138.4" y2="238"/><line x1="148.6" y1="36" x2="148.6" y2="238"/><line x1="158.7" y1="36" x2="158.7" y2="238"/><line x1="168.9" y1="36" x2="168.9" y2="238"/><line x1="179.1" y1="36" x2="179.1" y2="238"/><line x1="189.2" y1="36" x2="189.2" y2="238"/><line x1="199.4" y1="36" x2="199.4" y2="238"/><line x1="209.5" y1="36" x2="209.5" y2="238"/></g>
<g stroke-opacity="0.025"><line x1="219.7" y1="36" x2="219.7" y2="238"/><line x1="229.9" y1="36" x2="229.9" y2="238"/><line x1="240.0" y1="36" x2="240.0" y2="238"/><line x1="250.2" y1="36" x2="250.2" y2="238"/><line x1="260.3" y1="36" x2="260.3" y2="238"/><line x1="270.5" y1="36" x2="270.5" y2="238"/><line x1="280.7" y1="36" x2="280.7" y2="238"/><line x1="290.8" y1="36" x2="290.8" y2="238"/><line x1="301.0" y1="36" x2="301.0" y2="238"/><line x1="311.1" y1="36" x2="311.1" y2="238"/><line x1="321.3" y1="36" x2="321.3" y2="238"/><line x1="331.5" y1="36" x2="331.5" y2="238"/><line x1="341.6" y1="36" x2="341.6" y2="238"/><line x1="351.8" y1="36" x2="351.8" y2="238"/><line x1="361.9" y1="36" x2="361.9" y2="238"/><line x1="372.1" y1="36" x2="372.1" y2="238"/><line x1="382.3" y1="36" x2="382.3" y2="238"/><line x1="392.4" y1="36" x2="392.4" y2="238"/><line x1="402.6" y1="36" x2="402.6" y2="238"/><line x1="412.7" y1="36" x2="412.7" y2="238"/><line x1="422.9" y1="36" x2="422.9" y2="238"/><line x1="433.1" y1="36" x2="433.1" y2="238"/><line x1="443.2" y1="36" x2="443.2" y2="238"/></g>
<g stroke-opacity="0.06"><line x1="58" y1="217.6" x2="448" y2="217.6"/><line x1="58" y1="196.8" x2="448" y2="196.8"/><line x1="58" y1="176.1" x2="448" y2="176.1"/><line x1="58" y1="155.3" x2="448" y2="155.3"/><line x1="58" y1="134.6" x2="448" y2="134.6"/><line x1="58" y1="113.8" x2="448" y2="113.8"/><line x1="58" y1="93.1" x2="448" y2="93.1"/><line x1="58" y1="72.3" x2="448" y2="72.3"/><line x1="58" y1="51.6" x2="448" y2="51.6"/></g>
</g>
<!-- ticks -->
<g stroke="#000" stroke-width="1.5">
<line x1="57.75" y1="186.6" x2="63.35" y2="186.6"/>
<line x1="57.75" y1="134.9" x2="63.35" y2="134.9"/>
<line x1="57.75" y1="82.8" x2="63.35" y2="82.8"/>
<line x1="157.9" y1="238.1" x2="157.9" y2="232.6"/>
<line x1="257.3" y1="238.1" x2="257.3" y2="232.6"/>
<line x1="357.9" y1="238.1" x2="357.9" y2="232.6"/>
</g>
<g stroke="#000" stroke-width="1" stroke-opacity="0.35"><line x1="58" y1="227.9" x2="61" y2="227.9"/><line x1="58" y1="217.6" x2="61" y2="217.6"/><line x1="58" y1="207.2" x2="61" y2="207.2"/><line x1="58" y1="196.8" x2="61" y2="196.8"/><line x1="58" y1="176.1" x2="61" y2="176.1"/><line x1="58" y1="165.7" x2="61" y2="165.7"/><line x1="58" y1="155.3" x2="61" y2="155.3"/><line x1="58" y1="144.9" x2="61" y2="144.9"/><line x1="58" y1="124.2" x2="61" y2="124.2"/><line x1="58" y1="113.8" x2="61" y2="113.8"/><line x1="58" y1="103.4" x2="61" y2="103.4"/><line x1="58" y1="93.1" x2="61" y2="93.1"/><line x1="58" y1="72.3" x2="61" y2="72.3"/><line x1="58" y1="61.9" x2="61" y2="61.9"/><line x1="58" y1="51.6" x2="61" y2="51.6"/></g>
<line x1="88.0" y1="72.4" x2="420" y2="72.4" stroke="#000" stroke-width="2" stroke-dasharray="5.3 5.22"/>
<line x1="88.0" y1="228.3" x2="420" y2="228.3" stroke="#000" stroke-width="2" stroke-dasharray="5.3 5.22"/>
<line x1="177.8" y1="72.4" x2="177.8" y2="228.3" stroke="#000" stroke-width="2" stroke-dasharray="5.3 5.22"/>
<line x1="327.9" y1="72.4" x2="327.9" y2="228.3" stroke="#000" stroke-width="2" stroke-dasharray="5.3 5.22"/>
<rect x="229.6" y="124.4" width="40.8" height="83.2" fill="none" stroke="#fff" stroke-width="2"/>
<rect x="57.75" y="36.1" width="390.25" height="202.0" fill="none" stroke="#000" stroke-width="1.5"/>
</g>

<!-- panel a labels -->
<g font-family="'Liberation Sans', sans-serif" font-size="12.3" fill="#111" stroke="#111" stroke-width="0.4" letter-spacing="0.6">
<text x="52.0" y="87.8" text-anchor="end">0.15</text>
<text x="52.0" y="139.8" text-anchor="end">0.1</text>
<text x="52.0" y="191.6" text-anchor="end">0.05</text>
<text x="51.4" y="243.4" text-anchor="end">0</text>
<g font-size="11.8" letter-spacing="0.35">
<text x="57.8" y="249.9" text-anchor="middle">0</text>
<text x="156.6" y="249.9" text-anchor="middle">0.1</text>
<text x="257.4" y="249.9" text-anchor="middle">0.2</text>
<text x="357.7" y="249.9" text-anchor="middle">0.3</text>
</g>
<text transform="translate(15.3 137.5) rotate(-90)" text-anchor="middle" stroke-width="0.15" font-size="12.2">Z (m)</text>
</g>

<!-- colorbar a -->

<g><rect x="460.5" y="60.80" width="16.5" height="4.30" fill="#ff0a00"/><rect x="460.5" y="64.80" width="16.5" height="7.50" fill="#ff2e00"/><rect x="460.5" y="72.00" width="16.5" height="8.30" fill="#ff5600"/><rect x="460.5" y="80.00" width="16.5" height="8.70" fill="#ff7e00"/><rect x="460.5" y="88.40" width="16.5" height="7.70" fill="#ffb400"/><rect x="460.5" y="95.80" width="16.5" height="8.10" fill="#ffe400"/><rect x="460.5" y="103.60" width="16.5" height="8.10" fill="#e4f800"/><rect x="460.5" y="111.40" width="16.5" height="8.00" fill="#8cf400"/><rect x="460.5" y="119.10" width="16.5" height="7.50" fill="#10f000"/><rect x="460.5" y="126.30" width="16.5" height="7.50" fill="#04f000"/><rect x="460.5" y="133.50" width="16.5" height="8.30" fill="#00f000"/><rect x="460.5" y="141.50" width="16.5" height="8.30" fill="#00f000"/><rect x="460.5" y="149.50" width="16.5" height="8.20" fill="#00f000"/><rect x="460.5" y="157.40" width="16.5" height="7.70" fill="#00f05c"/><rect x="460.5" y="164.80" width="16.5" height="8.00" fill="#00f0a4"/><rect x="460.5" y="172.50" width="16.5" height="8.00" fill="#00f0c8"/><rect x="460.5" y="180.20" width="16.5" height="8.10" fill="#00f2e8"/><rect x="460.5" y="188.00" width="16.5" height="8.50" fill="#00eaf8"/><rect x="460.5" y="196.20" width="16.5" height="7.40" fill="#00c6f8"/><rect x="460.5" y="203.30" width="16.5" height="8.40" fill="#009eff"/><rect x="460.5" y="211.40" width="16.5" height="7.70" fill="#006cff"/><rect x="460.5" y="218.80" width="16.5" height="8.10" fill="#0034ff"/><rect x="460.5" y="226.60" width="16.5" height="4.70" fill="#0000ee"/></g>
<g stroke="#000" stroke-opacity="0.35" stroke-width="0.8"><line x1="460.5" y1="65.8" x2="477" y2="65.8"/><line x1="460.5" y1="88.4" x2="477" y2="88.4"/><line x1="460.5" y1="111.0" x2="477" y2="111.0"/><line x1="460.5" y1="133.6" x2="477" y2="133.6"/><line x1="460.5" y1="157.3" x2="477" y2="157.3"/><line x1="460.5" y1="180.5" x2="477" y2="180.5"/><line x1="460.5" y1="203.0" x2="477" y2="203.0"/></g>
<g font-family="'Liberation Sans', sans-serif" font-size="18" fill="#111" stroke="#111" stroke-width="0.45">
<text x="468" y="48" font-size="16.5" letter-spacing="1.3"><tspan font-size="17.5" dx="-0.5">M</tspan> (-)</text>
<text x="481" y="74.3" letter-spacing="1.2">0.160</text>
<text x="481" y="116" letter-spacing="1.2">0.068</text>
<text x="481" y="163.2" letter-spacing="1.2">0.029</text>
<text x="481" y="210" letter-spacing="1.2">0.012</text>
</g>

<!-- panel b -->
<g id="pb">
<clipPath id="clipb"><rect x="57.7" y="306.3" width="393.5" height="201.95"/></clipPath>
<g clip-path="url(#clipb)">
<rect x="40" y="296" width="428" height="224" fill="#0a32ff"/>
<path d="M180.7 296.0 L180.7 308.7 L184.3 324.2 L198.9 340.6 L193.4 351.5 L188.9 364.3 L184.3 375.2 L189.8 384.3 L198.9 395.3 L211.6 401.6 L225.0 406.0 L232.0 409.0 L238.3 410.5 L246.0 410.5 L246.0 477.0 L238.3 477.0 L231.0 475.5 L228.2 474.0 L220.7 464.0 L213.2 458.4 L205.7 447.2 L194.5 443.5 L185.1 434.1 L172.9 430.3 L168.2 439.7 L168.2 452.8 L164.5 469.7 L157.0 486.5 L139.4 492.1 L129.1 508.8 L129.1 520.0 L468.0 520.0 L468.0 296.0Z" fill="#0a64ff" stroke="#0a64ff" stroke-width="0.4" stroke-linejoin="round"/>
<path d="M391.0 296.0 L391.0 308.7 L384.8 316.4 L376.5 324.0 L392.0 326.0 L408.7 328.4 L422.0 330.0 L434.5 331.4 L441.0 325.0 L448.5 317.0 L468.0 312.0 L468.0 296.0Z" fill="#0a32ff" stroke="#0a32ff" stroke-width="0.4" stroke-linejoin="round"/>
<path d="M380.1 520.0 L380.1 508.8 L389.0 501.0 L398.8 494.0 L409.0 488.0 L419.4 483.7 L434.4 482.8 L449.4 488.4 L468.0 490.0 L468.0 520.0Z" fill="#0a32ff" stroke="#0a32ff" stroke-width="0.4" stroke-linejoin="round"/>
<path d="M170.0 510.0 L173.2 503.5 L176.5 510.0Z" fill="#0a32ff" stroke="#0a32ff" stroke-width="0.4" stroke-linejoin="round"/>
<path d="M102.5 296.0 L102.5 308.7 L103.4 326.0 L109.8 329.7 L126.2 327.9 L140.8 327.9 L148.0 324.2 L143.5 308.7 L143.5 296.0Z" fill="#0000ee" stroke="#0000ee" stroke-width="0.4" stroke-linejoin="round"/>
<path d="M40.0 487.5 L57.0 487.5 L73.9 478.1 L87.0 478.1 L97.0 482.0 L107.6 488.4 L112.2 494.0 L112.2 520.0 L40.0 520.0Z" fill="#0000ee" stroke="#0000ee" stroke-width="0.4" stroke-linejoin="round"/>
<path d="M431.0 510.0 L434.4 505.5 L438.0 510.0Z" fill="#0000ee" stroke="#0000ee" stroke-width="0.4" stroke-linejoin="round"/>
<path d="M209.8 296.0 L209.8 308.7 L221.7 321.5 L227.1 308.7 L227.1 296.0Z" fill="#0094ff" stroke="#0094ff" stroke-width="0.4" stroke-linejoin="round"/>
<path d="M245.6 342.0 L258.7 331.0 L271.9 324.5 L286.1 326.0 L306.2 335.1 L324.4 342.4 L331.0 348.5 L337.1 350.6 L345.0 346.0 L352.0 343.3 L366.9 340.3 L381.9 337.3 L396.8 338.2 L416.2 344.8 L399.8 358.2 L414.7 371.7 L423.0 382.5 L429.6 391.1 L434.1 407.5 L429.6 425.4 L417.5 434.0 L411.7 440.3 L400.7 447.2 L390.8 453.8 L372.9 455.3 L357.0 448.5 L346.9 451.0 L337.5 455.6 L320.7 454.7 L311.3 443.5 L303.8 430.3 L297.0 422.5 L287.0 421.5 L278.0 414.0 L270.0 405.0 L262.0 397.0 L259.5 386.0 L257.3 376.2 L252.9 361.6 L248.5 350.0Z" fill="#0094ff" stroke="#0094ff" stroke-width="0.4" stroke-linejoin="round"/>
<path d="M302.3 370.5 L308.7 368.1 L323.3 367.4 L337.8 368.7 L357.9 376.0 L365.1 384.1 L371.5 392.3 L371.4 404.5 L369.7 406.0 L353.3 424.2 L345.1 407.8 L336.9 402.4 L328.7 405.1 L319.6 409.6 L305.0 398.7 L297.8 391.4 L297.8 375.0Z" fill="#00c8ff" stroke="#00c8ff" stroke-width="0.4" stroke-linejoin="round"/>
<path d="M268.0 403.5 L287.8 424.2 L287.8 438.8 L275.5 451.0 L270.0 451.0Z" fill="#0a64ff"/>
<path d="M269.5 405.6 L286.8 424.4 L286.8 435.5 L275.5 448.0 L270.5 448.0Z" fill="#00c0ff"/>
<path d="M270.0 409.0 L284.0 424.5 L284.0 431.0 L272.0 440.0Z" fill="#00e8e0"/>
<path d="M270.5 413.0 L280.0 424.8 L271.0 432.0Z" fill="#00f0a0"/>
<path d="M255.0 389.6 L272.3 406.2 L273.2 472.6 L238.3 509.4 L220.6 492.0 L236.6 475.6 L236.9 406.6Z" fill="#00b8f8"/>
<path d="M255.0 391.8 L270.6 406.8 L271.6 472.0 L238.3 507.2 L222.8 492.0 L238.3 476.2 L238.6 407.2Z" fill="#00f800"/>
<path d="M238.6 476.4 L255.6 489.6" stroke="#00d8e8" stroke-width="1.4" fill="none"/>
<clipPath id="blobclip"><path d="M255.0 391.8 L270.6 406.8 L271.6 472.0 L238.3 507.2 L222.8 492.0 L238.3 476.2 L238.6 407.2Z"/></clipPath><g clip-path="url(#blobclip)">
<path d="M254.7 392.3 L270.5 408.5 L267.5 417.0 L264.4 424.4 L267.8 436.0 L272.5 457.4 L255.1 483.0 L237.5 457.4 L240.8 436.0 L245.0 424.4 L240.0 417.0 L239.0 408.5Z" fill="#66ee00"/>
<path d="M254.7 393.8 L269.0 408.5 L266.0 417.0 L263.1 424.4 L266.5 436.0 L271.2 457.4 L255.1 481.3 L239.0 457.4 L242.0 436.0 L246.3 424.4 L241.3 417.0 L240.5 408.5Z" fill="#ccff00"/>
<path d="M254.7 396.0 L266.7 408.5 L264.4 417.0 L258.9 424.4 L263.8 436.0 L270.1 457.4 L255.1 478.0 L240.3 457.4 L245.0 436.0 L250.4 424.4 L244.4 417.0 L242.9 408.5Z" fill="#ffff00"/>
<path d="M254.7 399.6 L263.3 408.7 L260.4 417.0 L254.7 421.6 L248.4 417.0 L245.9 408.7Z" fill="#ffc000"/>
<path d="M255.1 427.5 L259.4 436.0 L267.7 457.4 L255.1 474.8 L242.6 457.4 L250.8 436.0Z" fill="#ffc000"/>
<path d="M254.7 403.2 L259.7 409.0 L254.7 416.3 L249.5 409.0Z" fill="#ff9900"/>
<path d="M255.1 436.5 L264.9 457.4 L255.1 471.5 L245.3 457.4Z" fill="#ff9900"/>
<path d="M255.1 443.1 L261.7 457.4 L255.1 467.1 L248.6 457.4Z" fill="#ff6000"/>
<path d="M255.1 451.3 L258.9 457.6 L255.1 462.8 L251.3 457.6Z" fill="#ff2800"/>
</g>
<rect x="57.7" y="306.3" width="393.5" height="2.4" fill="#fff"/>
<g stroke="#40a0ff" stroke-opacity="0.4" stroke-width="1">
<line x1="57" y1="359.2" x2="452" y2="359.2"/><line x1="57" y1="375.6" x2="452" y2="375.6"/>
<line x1="57" y1="441.4" x2="452" y2="441.4"/><line x1="57" y1="457.7" x2="452" y2="457.7"/>
</g>
</g>
<line x1="86.9" y1="341.7" x2="419" y2="341.7" stroke="#000" stroke-width="2" stroke-dasharray="5.3 5.22"/>
<line x1="86.9" y1="497.3" x2="419" y2="497.3" stroke="#000" stroke-width="2" stroke-dasharray="5.3 5.22"/>
<line x1="176.5" y1="341.7" x2="176.5" y2="497.3" stroke="#000" stroke-width="2" stroke-dasharray="5.3 5.22"/>
<line x1="327.5" y1="341.7" x2="327.5" y2="497.3" stroke="#000" stroke-width="2" stroke-dasharray="5.3 5.22"/>
<rect x="229.6" y="397.6" width="44.4" height="88.2" fill="none" stroke="#fff" stroke-width="2"/>
<rect x="57.7" y="306.3" width="393.5" height="201.95" fill="none" stroke="#000" stroke-width="1.5"/>
</g>
<g font-family="'Liberation Sans', sans-serif" font-size="12.3" fill="#111" stroke="#111" stroke-width="0.4" letter-spacing="0.6">
<text x="50.7" y="354.5" text-anchor="end">0.15</text>
<text x="50.2" y="405.5" text-anchor="end">0.1</text>
<text x="50.1" y="457.8" text-anchor="end">0.05</text>
<text x="50.6" y="509.6" text-anchor="end">0</text>
<g font-size="11.8" letter-spacing="0.35">
<text x="59.6" y="522.9" text-anchor="middle">0</text>
<text x="154.5" y="520.4" text-anchor="middle">0.1</text>
<text x="255.3" y="520.8" text-anchor="middle">0.2</text>
<text x="355.7" y="520.8" text-anchor="middle">0.3</text>
</g>
<text transform="translate(15.3 407.5) rotate(-90)" text-anchor="middle" stroke-width="0.15" font-size="12.2">Z (m)</text>
</g>
<g><rect x="463.9" y="321.00" width="22.8" height="5.30" fill="#ff0000"/><rect x="463.9" y="326.00" width="22.8" height="9.60" fill="#ff2800"/><rect x="463.9" y="335.30" width="22.8" height="9.30" fill="#ff6000"/><rect x="463.9" y="344.30" width="22.8" height="10.50" fill="#ff9900"/><rect x="463.9" y="354.50" width="22.8" height="9.20" fill="#ffc000"/><rect x="463.9" y="363.40" width="22.8" height="10.50" fill="#ffff00"/><rect x="463.9" y="373.60" width="22.8" height="9.60" fill="#ccff00"/><rect x="463.9" y="382.90" width="22.8" height="9.40" fill="#66f000"/><rect x="463.9" y="392.00" width="22.8" height="9.60" fill="#00f000"/><rect x="463.9" y="401.30" width="22.8" height="9.60" fill="#00f000"/><rect x="463.9" y="410.60" width="22.8" height="9.60" fill="#00f000"/><rect x="463.9" y="419.90" width="22.8" height="9.50" fill="#00f000"/><rect x="463.9" y="429.10" width="22.8" height="10.50" fill="#00f055"/><rect x="463.9" y="439.30" width="22.8" height="9.20" fill="#00f0a0"/><rect x="463.9" y="448.20" width="22.8" height="10.30" fill="#00f0d0"/><rect x="463.9" y="458.20" width="22.8" height="9.40" fill="#00ffff"/><rect x="463.9" y="467.30" width="22.8" height="10.00" fill="#00c8ff"/><rect x="463.9" y="477.00" width="22.8" height="9.90" fill="#0099ff"/><rect x="463.9" y="486.60" width="22.8" height="9.80" fill="#0066ff"/><rect x="463.9" y="496.10" width="22.8" height="9.20" fill="#0030ff"/><rect x="463.9" y="505.00" width="22.8" height="5.30" fill="#0000ee"/></g>
<g stroke="#000" stroke-opacity="0.35" stroke-width="0.8"><line x1="463.9" y1="354.5" x2="486.7" y2="354.5"/><line x1="463.9" y1="392.0" x2="486.7" y2="392.0"/><line x1="463.9" y1="429.1" x2="486.7" y2="429.1"/><line x1="463.9" y1="467.3" x2="486.7" y2="467.3"/><line x1="463.9" y1="505.0" x2="486.7" y2="505.0"/></g>
<g font-family="'Liberation Sans', sans-serif" font-size="13.4" fill="#111" stroke="#111" stroke-width="0.4">
<text x="470.5" y="302.4" font-size="17.5">J</text>
<text x="476.3" y="312" font-size="14">s</text>
<text x="486" y="302.4" font-size="17.5">(</text>
<text x="493.2" y="302.4" font-size="17.5" letter-spacing="0.7">A/m</text>
<text x="526.8" y="295.4" font-size="12">2</text>
<text x="539.6" y="302.4" font-size="17.5">)</text>
<text x="493" y="358.3">2.6E<tspan dx="3.6">-06</tspan></text>
<text x="493" y="396.5">4.3E<tspan dx="3.6">-07</tspan></text>
<text x="493" y="433.8">7.2E<tspan dx="3.6">-08</tspan></text>
<text x="493" y="472.8">1.2E<tspan dx="3.6">-08</tspan></text>
<text x="493" y="512.4">2.0E<tspan dx="3.6">-09</tspan></text>
</g>
</svg>
</body></html>
